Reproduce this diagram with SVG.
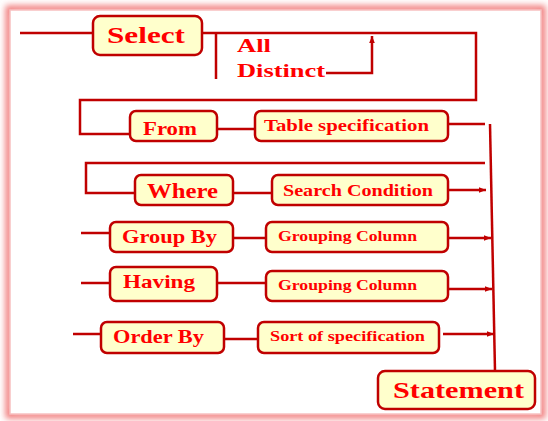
<svg xmlns="http://www.w3.org/2000/svg" width="548" height="421" viewBox="0 0 548 421">
<defs>
<filter id="glow" x="-10%" y="-10%" width="120%" height="120%">
<feGaussianBlur stdDeviation="3"/>
</filter>
<marker id="arr" viewBox="0 0 10 10" refX="10" refY="5" markerWidth="7" markerHeight="7" markerUnits="userSpaceOnUse" orient="auto">
<path d="M0,1 L10,5 L0,9 z" fill="#c00000"/>
</marker>
</defs>
<style>
.box{fill:#ffffcc;stroke:#c00000;stroke-width:2.5}
.ln{fill:none;stroke:#c00000;stroke-width:2.5}
.t{font-family:"Liberation Serif","DejaVu Serif",serif;font-weight:bold;fill:#ff0000}
</style>
<rect x="0" y="0" width="548" height="421" fill="#ffffff"/>
<rect x="9" y="9" width="533" height="406" fill="none" stroke="#f07878" stroke-width="7" filter="url(#glow)"/>
<rect x="10" y="10" width="531" height="404" fill="#ffffff" stroke="#f7c0c0" stroke-width="1.5"/>

<g id="connectors">
<path class="ln" d="M20,33 H93"/>
<path class="ln" d="M202,33 H476 V100 H80 V134 H130"/>
<path class="ln" d="M216,33 V79"/>
<path class="ln" d="M326,73 H372 V36" marker-end="url(#arr)"/>
<path class="ln" d="M217,129 H255"/>
<path class="ln" d="M448,124 H485"/>
<path class="ln" d="M490,124 L495,371"/>
<path class="ln" d="M485,163 H86 V193 H135"/>
<path class="ln" d="M233,193 H272"/>
<path class="ln" d="M448,190 H486" marker-end="url(#arr)"/>
<path class="ln" d="M81,233 H110"/>
<path class="ln" d="M233,238 H266"/>
<path class="ln" d="M448,238 H491" marker-end="url(#arr)"/>
<path class="ln" d="M81,283 H110"/>
<path class="ln" d="M213,283 H266"/>
<path class="ln" d="M448,289 H492" marker-end="url(#arr)"/>
<path class="ln" d="M73,334 H101"/>
<path class="ln" d="M220,339 H258"/>
<path class="ln" d="M443,334 H494" marker-end="url(#arr)"/>
</g>

<g id="select">
<rect class="box" x="93" y="16" width="109" height="39" rx="7"/>
<text class="t" x="107" y="43" font-size="23" textLength="78" lengthAdjust="spacingAndGlyphs">Select</text>
</g>
<g id="all">
<text class="t" x="237" y="52" font-size="19" textLength="34" lengthAdjust="spacingAndGlyphs">All</text>
</g>
<g id="distinct">
<text class="t" x="237" y="77" font-size="19" textLength="88" lengthAdjust="spacingAndGlyphs">Distinct</text>
</g>
<g id="from">
<rect class="box" x="130" y="111" width="87" height="30" rx="6"/>
<text class="t" x="143" y="135" font-size="19" textLength="54" lengthAdjust="spacingAndGlyphs">From</text>
</g>
<g id="table-spec">
<rect class="box" x="255" y="111" width="193" height="30" rx="6"/>
<text class="t" x="264" y="131" font-size="16.5" textLength="165" lengthAdjust="spacingAndGlyphs">Table specification</text>
</g>
<g id="where">
<rect class="box" x="135" y="175" width="98" height="30" rx="6"/>
<text class="t" x="147" y="198" font-size="20" textLength="71" lengthAdjust="spacingAndGlyphs">Where</text>
</g>
<g id="search-condition">
<rect class="box" x="272" y="175" width="176" height="30" rx="6"/>
<text class="t" x="283" y="196" font-size="17" textLength="150" lengthAdjust="spacingAndGlyphs">Search Condition</text>
</g>
<g id="group-by">
<rect class="box" x="110" y="222" width="123" height="30" rx="6"/>
<text class="t" x="122" y="243" font-size="19" textLength="95" lengthAdjust="spacingAndGlyphs">Group By</text>
</g>
<g id="grouping-column-1">
<rect class="box" x="266" y="222" width="182" height="30" rx="6"/>
<text class="t" x="278" y="241" font-size="15" textLength="139" lengthAdjust="spacingAndGlyphs">Grouping Column</text>
</g>
<g id="having">
<rect class="box" x="110" y="267" width="107" height="34" rx="6"/>
<text class="t" x="123" y="288" font-size="19" textLength="72" lengthAdjust="spacingAndGlyphs">Having</text>
</g>
<g id="grouping-column-2">
<rect class="box" x="266" y="271" width="182" height="30" rx="6"/>
<text class="t" x="278" y="290" font-size="15" textLength="139" lengthAdjust="spacingAndGlyphs">Grouping Column</text>
</g>
<g id="order-by">
<rect class="box" x="101" y="322" width="123" height="31" rx="6"/>
<text class="t" x="113" y="343" font-size="18" textLength="91" lengthAdjust="spacingAndGlyphs">Order By</text>
</g>
<g id="sort-spec">
<rect class="box" x="258" y="322" width="181" height="31" rx="6"/>
<text class="t" x="270" y="341" font-size="15" textLength="155" lengthAdjust="spacingAndGlyphs">Sort of specification</text>
</g>
<g id="statement">
<rect class="box" x="378" y="371" width="157" height="38" rx="7"/>
<text class="t" x="393" y="398" font-size="23" textLength="131" lengthAdjust="spacingAndGlyphs">Statement</text>
</g>
</svg>
